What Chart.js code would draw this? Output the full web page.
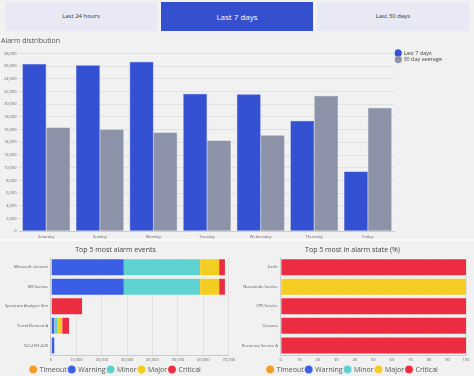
<!DOCTYPE html>
<html lang="en">
<head>
    <meta charset="UTF-8">
    <title>Alarm Dashboard</title>
    <style>
        body {
            margin: 0;
            padding: 0;
            width: 474px;
            height: 376px;
            overflow: hidden;
            background-color: #f1f1f1;
            font-family: 'Open Sans', 'Noto Sans', sans-serif;
        }

        .tabs {
            position: absolute;
            top: 2px;
            left: 5px;
            display: flex;
            gap: 4px;
        }

        .tabs div {
            width: 152px;
            height: 29px;
            line-height: 29px;
            text-align: center;
            background: #e8e9f5;
            color: #333;
            font-size: 6px;
        }

        .tabs div.active {
            background: #3450cf;
            color: #fff;
            font-size: 8px;
        }

        .main {
            position: absolute;
            left: 0;
            top: 33px;
            width: 474px;
            height: 209px;
            z-index: 2;
        }

        .divider {
            position: absolute;
            left: 0;
            top: 239px;
            width: 474px;
            height: 2px;
            background: #fafafa;
        }

        .bottom-left, .bottom-right {
            position: absolute;
            top: 241px;
            width: 237px;
            height: 142px;
        }

        .bottom-left { left: 0; }
        .bottom-right { left: 237px; }
    </style>
    <script src="https://cdn.jsdelivr.net/npm/chart.js"></script>
</head>
<body>
    <div class="tabs">
        <div>Last 24 hours</div>
        <div class="active">Last 7 days</div>
        <div>Last 30 days</div>
    </div>
    <div class="main"><canvas id="distChart"></canvas></div>
    <div class="divider"></div>
    <div class="bottom-left"><canvas id="eventsChart"></canvas></div>
    <div class="bottom-right"><canvas id="stateChart"></canvas></div>

    <script>
        // Alarm distribution
        const days = ['Saturday', 'Sunday', 'Monday', 'Tuesday', 'Wednesday', 'Thursday', 'Friday'];
        const last7Days = [26350, 26150, 26700, 21650, 21550, 17400, 9400];
        const avg30Days = [16350, 16000, 15550, 14300, 15100, 21350, 19450];

        // Top 5 most alarm events
        const eventSources = ['Microsoft element', 'MS Service', 'Spectrum Analyzer Sim', 'Trend Element A', 'SLC-H91-020'];
        const eventTimeout = [0, 0, 0, 0, 0];
        const eventWarning = [28700, 28700, 0, 1400, 1400];
        const eventMinor = [30000, 30000, 0, 1000, 0];
        const eventMajor = [7500, 7500, 0, 2000, 0];
        const eventCritical = [2300, 2300, 12300, 2700, 0];

        // Top 5 most in alarm state (%)
        const stateSources = ['Earth', 'Novastride Service', 'CPE Service', 'Oceania', 'Recursive Service A'];
        const stateTimeout = [0, 0, 0, 0, 0];
        const stateWarning = [0, 0, 0, 0, 0];
        const stateMinor = [0, 0, 0, 0, 0];
        const stateMajor = [0, 100, 0, 0, 0];
        const stateCritical = [100, 0, 100, 100, 100];

        const severityNames = ['Timeout', 'Warning', 'Minor', 'Major', 'Critical'];
        const severityColors = ['#f39c26', '#3a5ee6', '#5dd2d0', '#f4cd22', '#ec2c40'];

        const tickFont = { size: 4, family: "'Open Sans', sans-serif" };
        const gridColor = '#e1e1e1';

        // main grouped bar chart
        new Chart(document.getElementById('distChart'), {
            type: 'bar',
            data: {
                labels: days,
                datasets: [{
                    label: 'Last 7 days',
                    data: last7Days,
                    backgroundColor: '#3451d3',
                    borderColor: '#4a63d8',
                    borderWidth: 0.5
                }, {
                    label: '30 day average',
                    data: avg30Days,
                    backgroundColor: '#8c93a8',
                    borderColor: '#959bb0',
                    borderWidth: 0.5
                }]
            },
            options: {
                responsive: true,
                maintainAspectRatio: false,
                animation: false,
                layout: { padding: { left: 1, right: 22, top: 0, bottom: 0 } },
                datasets: { bar: { barPercentage: 1, categoryPercentage: 0.89 } },
                plugins: {
                    title: {
                        display: true,
                        text: 'Alarm distribution',
                        align: 'start',
                        color: '#555',
                        font: { size: 7, weight: 'normal', family: "'Open Sans', sans-serif" },
                        padding: { top: 4, bottom: 8 }
                    },
                    legend: {
                        position: 'right',
                        align: 'start',
                        title: { display: true, text: ' ', padding: 4.5, font: { size: 6 } },
                        labels: {
                            usePointStyle: true,
                            pointStyle: 'circle',
                            boxWidth: 5,
                            boxHeight: 5,
                            padding: 1,
                            color: '#444',
                            font: { size: 5.5, family: "'Open Sans', sans-serif" }
                        }
                    },
                    tooltip: { enabled: false }
                },
                scales: {
                    x: {
                        grid: { display: false, drawTicks: false },
                        border: { color: '#ccc' },
                        ticks: { font: tickFont, color: '#666', padding: 3 }
                    },
                    y: {
                        min: 0,
                        max: 28000,
                        ticks: { stepSize: 2000, font: tickFont, color: '#666', padding: 3 },
                        grid: { color: gridColor, drawTicks: false },
                        border: { display: false }
                    }
                }
            }
        });

        function stackedOptions(title, max, step) {
            return {
                indexAxis: 'y',
                responsive: true,
                maintainAspectRatio: false,
                animation: false,
                layout: { padding: { left: 2, right: 8, top: 0, bottom: 0 } },
                datasets: { bar: { barPercentage: 0.92, categoryPercentage: 1 } },
                plugins: {
                    title: {
                        display: true,
                        text: title,
                        color: '#444',
                        font: { size: 7, weight: 'normal', family: "'Open Sans', sans-serif" },
                        padding: { top: 5, bottom: 3 }
                    },
                    legend: {
                        position: 'bottom',
                        labels: {
                            usePointStyle: true,
                            pointStyle: 'circle',
                            boxWidth: 6,
                            boxHeight: 6,
                            padding: 2,
                            color: '#555',
                            font: { size: 7, family: "'Open Sans', sans-serif" }
                        }
                    },
                    tooltip: { enabled: false }
                },
                scales: {
                    x: {
                        stacked: true,
                        min: 0,
                        max: max,
                        ticks: { stepSize: step, font: tickFont, color: '#666', padding: 2 },
                        grid: { color: gridColor, drawTicks: false },
                        border: { color: '#ccc' }
                    },
                    y: {
                        stacked: true,
                        ticks: { font: tickFont, color: '#555', padding: 3 },
                        grid: { display: false, drawTicks: false },
                        border: { color: '#ccc' }
                    }
                }
            };
        }

        function severitySets(values) {
            return severityNames.map((name, i) => ({
                label: name,
                data: values[i],
                backgroundColor: severityColors[i],
                borderColor: '#f5f5f5',
                borderWidth: { top: 1, bottom: 1, left: 0, right: 0 },
                borderSkipped: false
            }));
        }

        new Chart(document.getElementById('eventsChart'), {
            type: 'bar',
            data: {
                labels: eventSources,
                datasets: severitySets([eventTimeout, eventWarning, eventMinor, eventMajor, eventCritical])
            },
            options: stackedOptions('Top 5 most alarm events', 70000, 10000)
        });

        new Chart(document.getElementById('stateChart'), {
            type: 'bar',
            data: {
                labels: stateSources,
                datasets: severitySets([stateTimeout, stateWarning, stateMinor, stateMajor, stateCritical])
            },
            options: stackedOptions('Top 5 most in alarm state (%)', 100, 10)
        });
    </script>
</body>
</html>
